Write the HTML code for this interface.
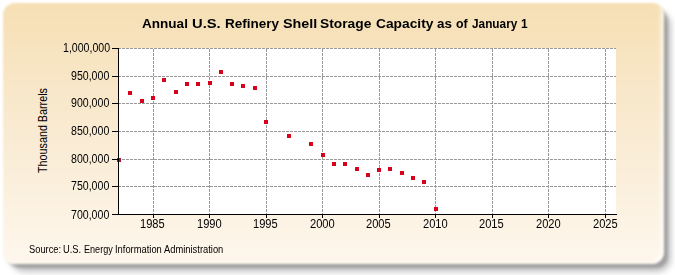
<!DOCTYPE html>
<html><head><meta charset="utf-8"><style>
html,body{margin:0;padding:0;width:675px;height:275px;overflow:hidden;background:#fff;}
body{position:relative;font-family:"Liberation Sans",sans-serif;color:#000;}
.shadow{position:absolute;left:11px;top:12px;width:660px;height:260px;border-radius:14px;background:rgba(0,0,0,0.23);filter:blur(3px);}
.shadow2{position:absolute;left:7px;top:8px;width:661px;height:260px;border-radius:12px;background:rgba(0,0,0,0.18);filter:blur(1.6px);}
.frame{position:absolute;left:3px;top:3px;width:661px;height:261px;border-radius:12px 11px 12px 9px;
 background:linear-gradient(to bottom,#f6dfb4 0%,#f9ead0 45%,#fef7ed 100%);
 box-shadow:inset -7px -3px 3px -3px rgba(255,255,255,0.55);filter:blur(0.8px);}
svg{position:absolute;left:0;top:0;}
.t{position:absolute;white-space:nowrap;line-height:20px;transform-origin:0 0;color:#000;}
</style></head><body>
<div class="shadow"></div><div class="shadow2"></div><div class="frame"></div>
<svg width="675" height="275" shape-rendering="crispEdges">
<rect x="119" y="48" width="497" height="166" fill="#ffffff"/>
<line x1="118" y1="48.5" x2="616" y2="48.5" stroke="#999999" stroke-width="1" stroke-dasharray="3,1"/>
<line x1="118" y1="76.5" x2="616" y2="76.5" stroke="#999999" stroke-width="1" stroke-dasharray="3,1"/>
<line x1="118" y1="103.5" x2="616" y2="103.5" stroke="#999999" stroke-width="1" stroke-dasharray="3,1"/>
<line x1="118" y1="131.5" x2="616" y2="131.5" stroke="#999999" stroke-width="1" stroke-dasharray="3,1"/>
<line x1="118" y1="159.5" x2="616" y2="159.5" stroke="#999999" stroke-width="1" stroke-dasharray="3,1"/>
<line x1="118" y1="186.5" x2="616" y2="186.5" stroke="#999999" stroke-width="1" stroke-dasharray="3,1"/>
<line x1="153.5" y1="49" x2="153.5" y2="214" stroke="#999999" stroke-width="1" stroke-dasharray="3,1"/>
<line x1="209.5" y1="49" x2="209.5" y2="214" stroke="#999999" stroke-width="1" stroke-dasharray="3,1"/>
<line x1="266.5" y1="49" x2="266.5" y2="214" stroke="#999999" stroke-width="1" stroke-dasharray="3,1"/>
<line x1="322.5" y1="49" x2="322.5" y2="214" stroke="#999999" stroke-width="1" stroke-dasharray="3,1"/>
<line x1="379.5" y1="49" x2="379.5" y2="214" stroke="#999999" stroke-width="1" stroke-dasharray="3,1"/>
<line x1="435.5" y1="49" x2="435.5" y2="214" stroke="#999999" stroke-width="1" stroke-dasharray="3,1"/>
<line x1="492.5" y1="49" x2="492.5" y2="214" stroke="#999999" stroke-width="1" stroke-dasharray="3,1"/>
<line x1="548.5" y1="49" x2="548.5" y2="214" stroke="#999999" stroke-width="1" stroke-dasharray="3,1"/>
<line x1="605.5" y1="49" x2="605.5" y2="214" stroke="#999999" stroke-width="1" stroke-dasharray="3,1"/>
<rect x="117" y="158" width="4" height="4" fill="#a3122e"/>
<rect x="128" y="91" width="4" height="4" fill="#d9001e"/>
<rect x="140" y="99" width="4" height="4" fill="#d9001e"/>
<rect x="151" y="96" width="4" height="4" fill="#d9001e"/>
<rect x="162" y="78" width="4" height="4" fill="#d9001e"/>
<rect x="174" y="90" width="4" height="4" fill="#d9001e"/>
<rect x="185" y="82" width="4" height="4" fill="#d9001e"/>
<rect x="196" y="82" width="4" height="4" fill="#d9001e"/>
<rect x="208" y="81" width="4" height="4" fill="#d9001e"/>
<rect x="219" y="70" width="4" height="4" fill="#d9001e"/>
<rect x="230" y="82" width="4" height="4" fill="#d9001e"/>
<rect x="241" y="84" width="4" height="4" fill="#d9001e"/>
<rect x="253" y="86" width="4" height="4" fill="#d9001e"/>
<rect x="264" y="120" width="4" height="4" fill="#d9001e"/>
<rect x="287" y="134" width="4" height="4" fill="#d9001e"/>
<rect x="309" y="142" width="4" height="4" fill="#d9001e"/>
<rect x="321" y="153" width="4" height="4" fill="#d9001e"/>
<rect x="332" y="162" width="4" height="4" fill="#d9001e"/>
<rect x="343" y="162" width="4" height="4" fill="#d9001e"/>
<rect x="355" y="167" width="4" height="4" fill="#d9001e"/>
<rect x="366" y="173" width="4" height="4" fill="#d9001e"/>
<rect x="377" y="168" width="4" height="4" fill="#d9001e"/>
<rect x="388" y="167" width="4" height="4" fill="#d9001e"/>
<rect x="400" y="171" width="4" height="4" fill="#d9001e"/>
<rect x="411" y="176" width="4" height="4" fill="#d9001e"/>
<rect x="422" y="180" width="4" height="4" fill="#d9001e"/>
<rect x="434" y="207" width="4" height="4" fill="#d9001e"/>
<rect x="118" y="48" width="1" height="167" fill="#000"/>
<rect x="112" y="214" width="505" height="1" fill="#000"/>
<rect x="112" y="48" width="6" height="1" fill="#000"/>
<rect x="112" y="76" width="6" height="1" fill="#000"/>
<rect x="112" y="103" width="6" height="1" fill="#000"/>
<rect x="112" y="131" width="6" height="1" fill="#000"/>
<rect x="112" y="159" width="6" height="1" fill="#000"/>
<rect x="112" y="186" width="6" height="1" fill="#000"/>
<rect x="112" y="214" width="6" height="1" fill="#000"/>
<rect x="153" y="215" width="1" height="3" fill="#000"/>
<rect x="209" y="215" width="1" height="3" fill="#000"/>
<rect x="266" y="215" width="1" height="3" fill="#000"/>
<rect x="322" y="215" width="1" height="3" fill="#000"/>
<rect x="379" y="215" width="1" height="3" fill="#000"/>
<rect x="435" y="215" width="1" height="3" fill="#000"/>
<rect x="492" y="215" width="1" height="3" fill="#000"/>
<rect x="548" y="215" width="1" height="3" fill="#000"/>
<rect x="605" y="215" width="1" height="3" fill="#000"/>
</svg>
<span class="t" style="left:142.20px;top:14.00px;font-weight:bold;font-size:13.5px;transform:scaleX(1.0033)">Annual</span>
<span class="t" style="left:191.91px;top:14.00px;font-weight:bold;font-size:13.5px;transform:scaleX(1.0900)">U.S.</span>
<span class="t" style="left:224.60px;top:14.00px;font-weight:bold;font-size:13.5px;transform:scaleX(0.9996)">Refinery</span>
<span class="t" style="left:282.96px;top:14.00px;font-weight:bold;font-size:13.5px;transform:scaleX(1.0629)">Shell</span>
<span class="t" style="left:320.19px;top:14.00px;font-weight:bold;font-size:13.5px;transform:scaleX(1.0219)">Storage</span>
<span class="t" style="left:375.96px;top:14.00px;font-weight:bold;font-size:13.5px;transform:scaleX(1.0201)">Capacity</span>
<span class="t" style="left:436.96px;top:14.00px;font-weight:bold;font-size:13.5px;transform:scaleX(0.9940)">as</span>
<span class="t" style="left:455.64px;top:14.00px;font-weight:bold;font-size:13.5px;transform:scaleX(0.9164)">of</span>
<span class="t" style="left:471.67px;top:14.00px;font-weight:bold;font-size:13.5px;transform:scaleX(0.8752)">January</span>
<span class="t" style="left:520.92px;top:14.00px;font-weight:bold;font-size:13.5px;transform:scaleX(0.8875)">1</span>
<span class="t" style="left:28.61px;top:240.00px;font-size:10px;transform:scaleX(0.9308)">Source:</span>
<span class="t" style="left:63.12px;top:240.00px;font-size:10px;transform:scaleX(0.9338)">U.S.</span>
<span class="t" style="left:83.61px;top:240.00px;font-size:10px;transform:scaleX(0.9084)">Energy</span>
<span class="t" style="left:114.93px;top:240.00px;font-size:10px;transform:scaleX(0.9360)">Information</span>
<span class="t" style="left:164.08px;top:240.00px;font-size:10px;transform:scaleX(0.9360)">Administration</span>
<span class="t" style="left:62.57px;top:38.00px;font-size:12px;transform:scaleX(0.8827)">1,000,000</span>
<span class="t" style="left:71.40px;top:66.00px;font-size:12px;transform:scaleX(0.8827)">950,000</span>
<span class="t" style="left:71.40px;top:93.00px;font-size:12px;transform:scaleX(0.8827)">900,000</span>
<span class="t" style="left:71.40px;top:121.00px;font-size:12px;transform:scaleX(0.8827)">850,000</span>
<span class="t" style="left:71.40px;top:149.00px;font-size:12px;transform:scaleX(0.8827)">800,000</span>
<span class="t" style="left:71.40px;top:176.00px;font-size:12px;transform:scaleX(0.8827)">750,000</span>
<span class="t" style="left:71.40px;top:205.00px;font-size:12px;transform:scaleX(0.8827)">700,000</span>
<span class="t" style="left:139.75px;top:214.00px;font-size:12px;transform:scaleX(0.9260)">1985</span>
<span class="t" style="left:197.02px;top:214.00px;font-size:12px;transform:scaleX(0.9260)">1990</span>
<span class="t" style="left:253.05px;top:214.00px;font-size:12px;transform:scaleX(0.9260)">1995</span>
<span class="t" style="left:309.53px;top:214.00px;font-size:12px;transform:scaleX(0.9260)">2000</span>
<span class="t" style="left:365.85px;top:214.00px;font-size:12px;transform:scaleX(0.9260)">2005</span>
<span class="t" style="left:422.53px;top:214.00px;font-size:12px;transform:scaleX(0.9260)">2010</span>
<span class="t" style="left:478.85px;top:214.00px;font-size:12px;transform:scaleX(0.9260)">2015</span>
<span class="t" style="left:536.03px;top:214.00px;font-size:12px;transform:scaleX(0.9260)">2020</span>
<span class="t" style="left:592.55px;top:214.00px;font-size:12px;transform:scaleX(0.9260)">2025</span>
<span class="t" style="left:33.13px;top:172.79px;font-size:12px;transform:rotate(-90deg) scaleX(0.8969)">Thousand Barrels</span>
</body></html>
